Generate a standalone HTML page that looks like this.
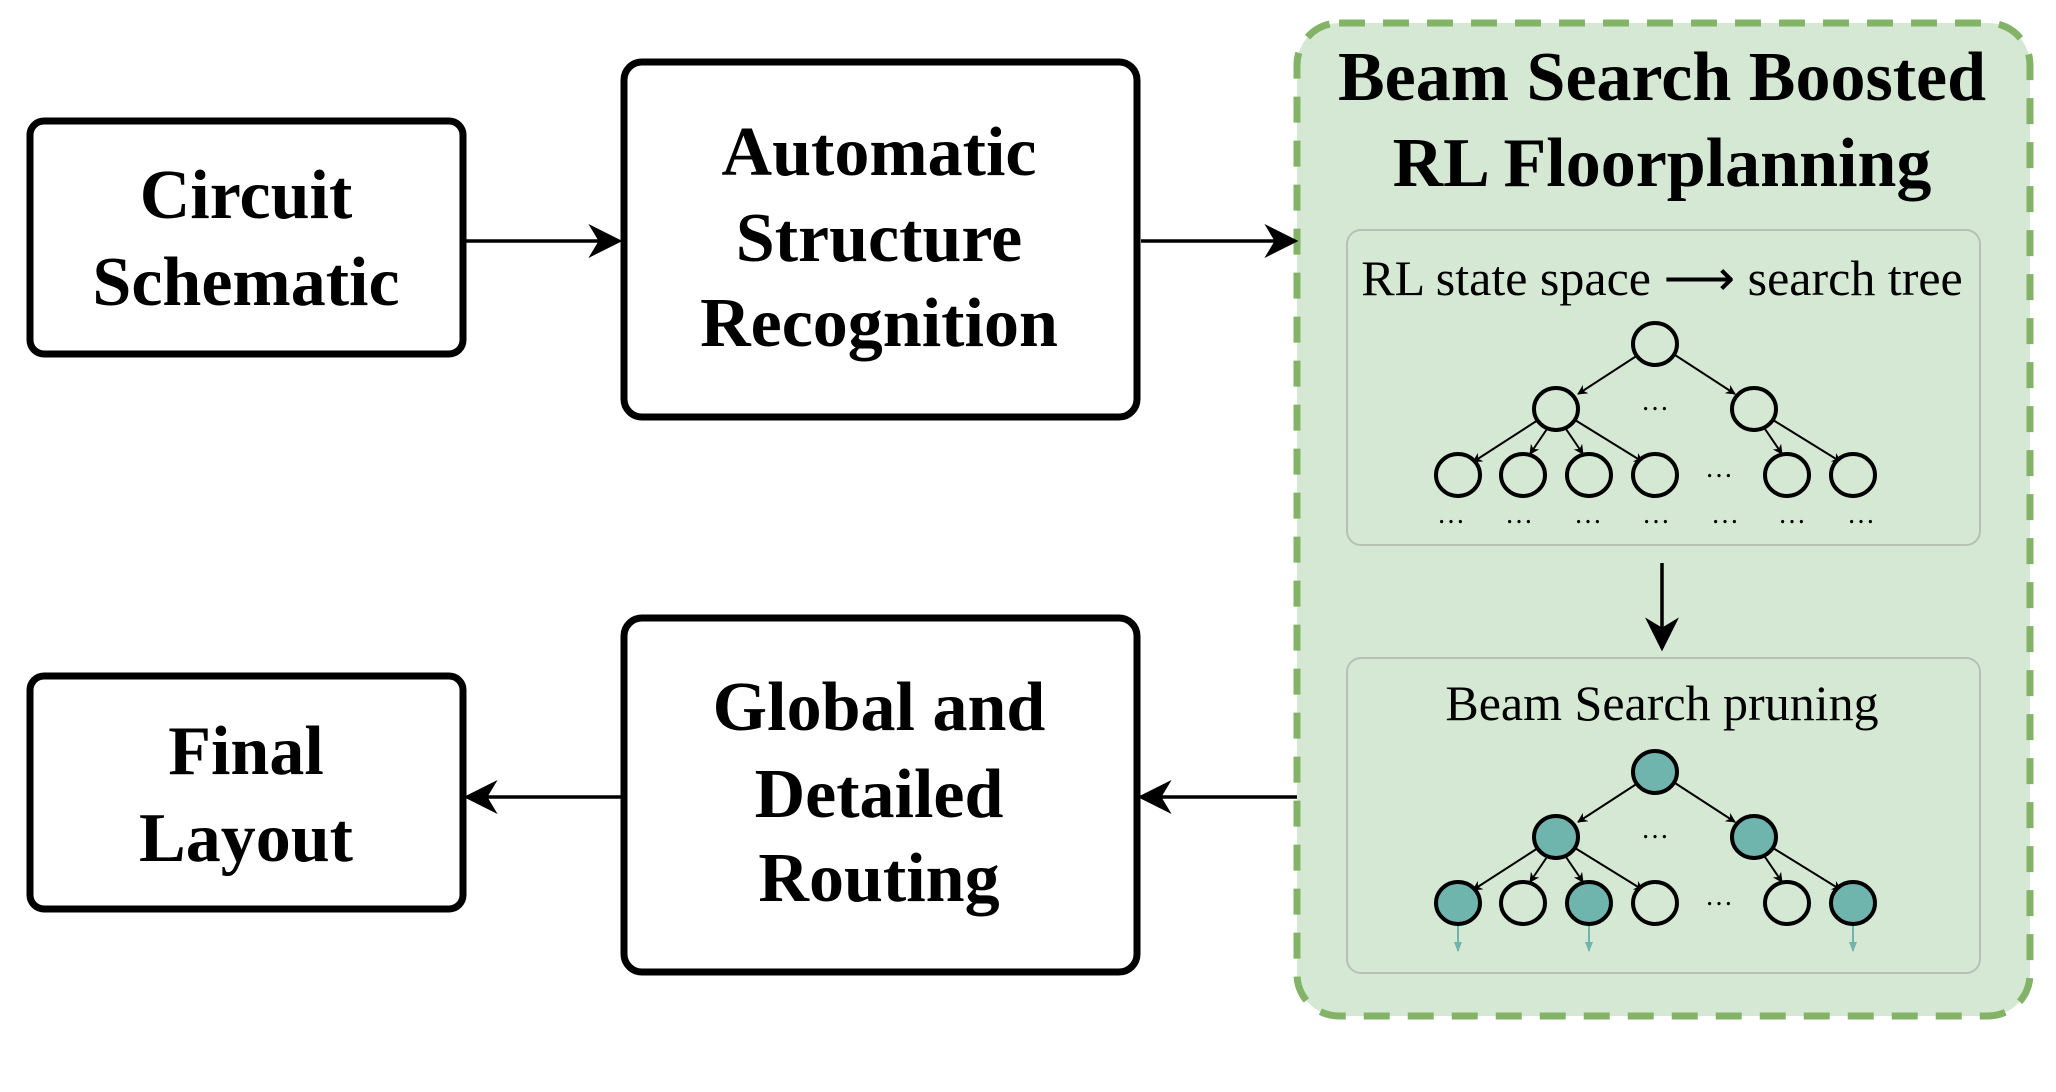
<!DOCTYPE html>
<html><head><meta charset="utf-8"><style>
html,body{margin:0;padding:0;background:#fff;}
svg{display:block;}
.b{font-family:"Liberation Serif",serif;font-weight:bold;font-size:70px;text-anchor:middle;}
.t{font-family:"Liberation Serif",serif;font-weight:bold;font-size:70px;text-anchor:middle;}
.r{font-family:"Liberation Serif",serif;font-size:50px;text-anchor:middle;}
.d{font-family:"Liberation Serif",serif;font-size:28px;text-anchor:middle;}
</style></head><body>
<svg width="2056" height="1092" viewBox="0 0 2056 1092" xmlns="http://www.w3.org/2000/svg">
<defs>
<marker id="ah" viewBox="0 0 10 10" refX="9" refY="5" markerWidth="10" markerHeight="10" markerUnits="userSpaceOnUse" orient="auto"><path d="M0,0 L10,5 L0,10 L3,5 z" fill="#000"/></marker>
<marker id="big" viewBox="0 0 10 10" refX="9" refY="5" markerWidth="34" markerHeight="34" markerUnits="userSpaceOnUse" orient="auto"><path d="M0,0 L10,5 L0,10 L3,5 z" fill="#000"/></marker>
<marker id="ta" viewBox="0 0 10 10" refX="9" refY="5" markerWidth="10" markerHeight="10" markerUnits="userSpaceOnUse" orient="auto"><path d="M0,1 L10,5 L0,9 z" fill="#6fb5ad"/></marker>
</defs>
<g transform="translate(-5,0)">
<rect x="1302" y="23" width="733" height="993" rx="42" fill="#d5e8d4" stroke="#82b366" stroke-width="7" stroke-dasharray="26,18"/>
<rect x="35" y="121" width="433" height="233" rx="14" fill="#fff" stroke="#000" stroke-width="7"/>
<rect x="629" y="62" width="513" height="355" rx="18" fill="#fff" stroke="#000" stroke-width="7"/>
<rect x="35" y="676" width="433" height="233" rx="14" fill="#fff" stroke="#000" stroke-width="7"/>
<rect x="629" y="618" width="513" height="354" rx="18" fill="#fff" stroke="#000" stroke-width="7"/>
<text class="b" x="251" y="218">Circuit</text>
<text class="b" x="251" y="305">Schematic</text>
<text class="b" x="884" y="175">Automatic</text>
<text class="b" x="884" y="261">Structure</text>
<text class="b" x="884" y="346">Recognition</text>
<text class="b" x="251" y="774">Final</text>
<text class="b" x="251" y="861">Layout</text>
<text class="b" x="884" y="730">Global and</text>
<text class="b" x="884" y="817">Detailed</text>
<text class="b" x="884" y="901">Routing</text>
<g stroke="#000" stroke-width="3.5" fill="none">
<line x1="470" y1="241" x2="624" y2="241" marker-end="url(#big)"/>
<line x1="1146" y1="241" x2="1300" y2="241" marker-end="url(#big)"/>
<line x1="627" y1="797" x2="472" y2="797" marker-end="url(#big)"/>
<line x1="1302" y1="797" x2="1146" y2="797" marker-end="url(#big)"/>
<line x1="1667" y1="563" x2="1667" y2="648" marker-end="url(#big)"/>
</g>
<text class="t" x="1667" y="100">Beam Search Boosted</text>
<text class="t" x="1667" y="186">RL Floorplanning</text>
<rect x="1352" y="230" width="633" height="315" rx="14" fill="#d5e8d4" stroke="#b5c2b3" stroke-width="2"/>
<rect x="1352" y="658" width="633" height="315" rx="14" fill="#d5e8d4" stroke="#b5c2b3" stroke-width="2"/>
<text class="r" x="1667" y="295">RL state space ⟶ search tree</text>
<text class="r" x="1667" y="720">Beam Search pruning</text>
<g stroke="#000" stroke-width="2" fill="none">
<line x1="1643" y1="355" x2="1583" y2="394" marker-end="url(#ah)"/>
<line x1="1680" y1="355" x2="1740" y2="394" marker-end="url(#ah)"/>
<line x1="1543" y1="420" x2="1478" y2="462" marker-end="url(#ah)"/>
<line x1="1552" y1="429" x2="1535" y2="454" marker-end="url(#ah)"/>
<line x1="1571" y1="429" x2="1588" y2="454" marker-end="url(#ah)"/>
<line x1="1580" y1="420" x2="1648" y2="462" marker-end="url(#ah)"/>
<line x1="1770" y1="429" x2="1787" y2="454" marker-end="url(#ah)"/>
<line x1="1778" y1="420" x2="1846" y2="462" marker-end="url(#ah)"/>
</g>
<g stroke="#000" stroke-width="4" fill="#d5e8d4">
<ellipse cx="1660" cy="344" rx="22" ry="21"/>
<ellipse cx="1561" cy="409" rx="22" ry="21"/>
<ellipse cx="1759" cy="409" rx="22" ry="21"/>
<ellipse cx="1463" cy="475" rx="22" ry="21"/>
<ellipse cx="1528" cy="475" rx="22" ry="21"/>
<ellipse cx="1594" cy="475" rx="22" ry="21"/>
<ellipse cx="1660" cy="475" rx="22" ry="21"/>
<ellipse cx="1792" cy="475" rx="22" ry="21"/>
<ellipse cx="1858" cy="475" rx="22" ry="21"/>
</g>
<text class="d" x="1660" y="410">…</text>
<text class="d" x="1724" y="477">…</text>
<text class="d" x="1456" y="523">…</text><text class="d" x="1524" y="523">…</text><text class="d" x="1593" y="523">…</text><text class="d" x="1661" y="523">…</text><text class="d" x="1730" y="523">…</text><text class="d" x="1797" y="523">…</text><text class="d" x="1866" y="523">…</text>
<g stroke="#000" stroke-width="2" fill="none">
<line x1="1643" y1="783" x2="1583" y2="822" marker-end="url(#ah)"/>
<line x1="1680" y1="783" x2="1740" y2="822" marker-end="url(#ah)"/>
<line x1="1543" y1="848" x2="1478" y2="890" marker-end="url(#ah)"/>
<line x1="1552" y1="857" x2="1535" y2="882" marker-end="url(#ah)"/>
<line x1="1571" y1="857" x2="1588" y2="882" marker-end="url(#ah)"/>
<line x1="1580" y1="848" x2="1648" y2="890" marker-end="url(#ah)"/>
<line x1="1770" y1="857" x2="1787" y2="882" marker-end="url(#ah)"/>
<line x1="1778" y1="848" x2="1846" y2="890" marker-end="url(#ah)"/>
</g>
<g stroke="#6fb5ad" stroke-width="2">
<line x1="1463" y1="926" x2="1463" y2="951" marker-end="url(#ta)"/>
<line x1="1594" y1="926" x2="1594" y2="951" marker-end="url(#ta)"/>
<line x1="1858" y1="926" x2="1858" y2="951" marker-end="url(#ta)"/>
</g>
<g stroke="#000" stroke-width="4">
<ellipse cx="1660" cy="772" rx="22" ry="21" fill="#6fb5ad"/>
<ellipse cx="1561" cy="837" rx="22" ry="21" fill="#6fb5ad"/>
<ellipse cx="1759" cy="837" rx="22" ry="21" fill="#6fb5ad"/>
<ellipse cx="1463" cy="903" rx="22" ry="21" fill="#6fb5ad"/>
<ellipse cx="1528" cy="903" rx="22" ry="21" fill="#d5e8d4"/>
<ellipse cx="1594" cy="903" rx="22" ry="21" fill="#6fb5ad"/>
<ellipse cx="1660" cy="903" rx="22" ry="21" fill="#d5e8d4"/>
<ellipse cx="1792" cy="903" rx="22" ry="21" fill="#d5e8d4"/>
<ellipse cx="1858" cy="903" rx="22" ry="21" fill="#6fb5ad"/>
</g>
<text class="d" x="1660" y="838">…</text>
<text class="d" x="1724" y="905">…</text>
</g>
</svg>
</body></html>
